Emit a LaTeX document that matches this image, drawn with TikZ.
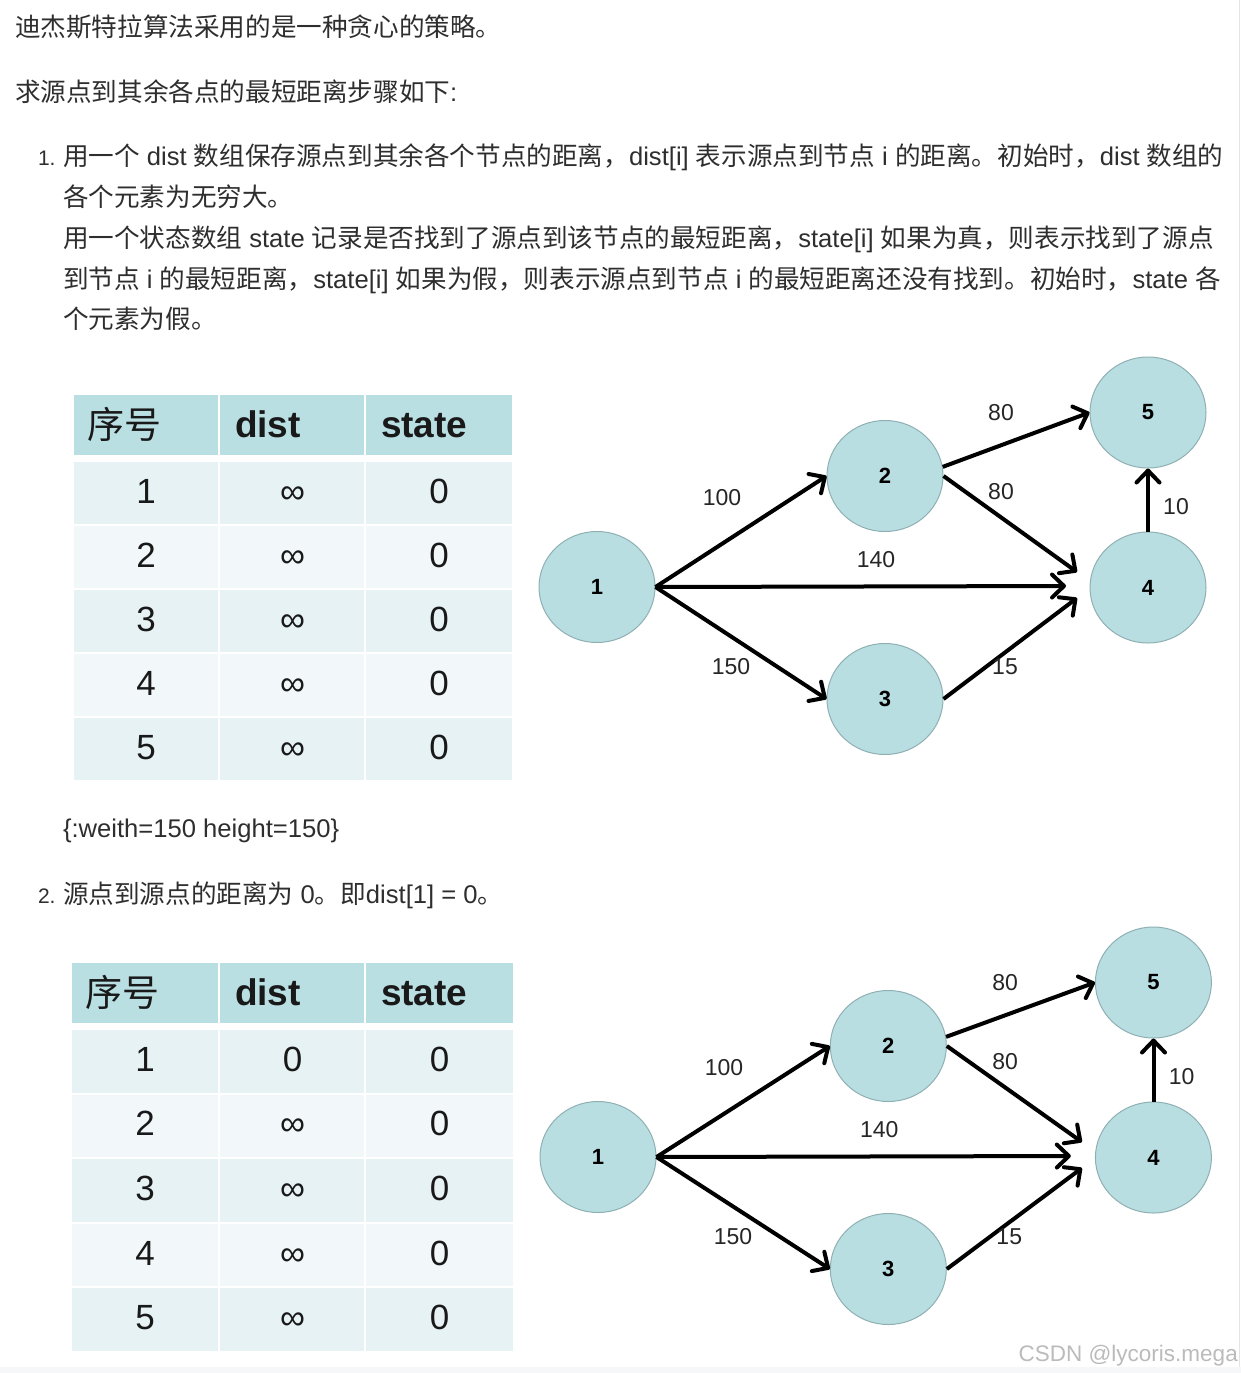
\documentclass[tikz,border=0pt]{standalone}
\usepackage{fontspec}
\setmainfont{Liberation Sans}
\newfontfamily\zhfont{Noto Sans CJK SC}
\usetikzlibrary{arrows.meta,shapes.geometric}
\newcommand\zh[1]{{\zhfont #1}}
\definecolor{txt}{HTML}{2E2E2E}
\definecolor{hdr}{HTML}{B9DFE3}
\definecolor{rowa}{HTML}{E6F2F4}
\definecolor{rowb}{HTML}{F2F8FA}
\definecolor{nodefill}{HTML}{B9DEE2}
\definecolor{nodeline}{HTML}{8FB0B3}
\definecolor{wm}{HTML}{BBBBBB}
\definecolor{edgegray}{HTML}{E4E4E4}
\definecolor{bandgray}{HTML}{F6F7F8}
\tikzset{
  para/.style={anchor=base west, inner sep=0pt, outer sep=0pt, text=txt, font=\fontsize{25.6}{30}\selectfont},
  marker/.style={anchor=base west, inner sep=0pt, outer sep=0pt, text=txt, font=\fontsize{21}{25}\selectfont},
  hdrtext/.style={anchor=base west, inner sep=0pt, outer sep=0pt, text=black!90, font=\fontsize{37}{40}\selectfont\bfseries},
  bodytext/.style={anchor=base, inner sep=0pt, outer sep=0pt, text=black!90, font=\fontsize{35}{40}\selectfont},
  gnode/.style={ellipse, draw=nodeline, line width=1pt, fill=nodefill, minimum width=116pt, minimum height=111pt, inner sep=0pt, text=black, font=\fontsize{22}{24}\selectfont\bfseries},
  glabel/.style={inner sep=0pt, outer sep=0pt, text=black!85, font=\fontsize{23}{26}\selectfont},
  garrow/.style={draw=black, line width=4pt, -{Straight Barb[length=12pt,width=23pt,round]}},
}
\newcommand\drawtable[7]{%
  \fill[hdr] (#2,#4) rectangle (218,#4+60);
  \fill[hdr] (220,#4) rectangle (364,#4+60);
  \fill[hdr] (366,#4) rectangle (#3,#4+60);
  \node[hdrtext] (#1-h1) at (#2+13,#4+43) {\mdseries\zh{序号}};
  \node[hdrtext] (#1-h2) at (235,#4+42.5) {dist};
  \node[hdrtext] (#1-h3) at (381,#4+42.5) {state};
  \foreach \i/\d in {#7}{%
    \pgfmathsetmacro\rt{#5+(\i-1)*#6}%
    \pgfmathsetmacro\rb{\rt+#6-2}%
    \pgfmathsetmacro\rc{(\rt+\rb)/2+10}%
    \ifodd\i\def\rf{rowa}\else\def\rf{rowb}\fi
    \fill[fill=\rf] (#2,\rt) rectangle (218,\rb);
    \fill[fill=\rf] (220,\rt) rectangle (364,\rb);
    \fill[fill=\rf] (366,\rt) rectangle (#3,\rb);
    \node[bodytext] (#1-r\i-c1) at ({(#2+218)/2},\rc) {\i};
    \node[bodytext] (#1-r\i-c2) at (292.5,\rc) {\d};
    \node[bodytext] (#1-r\i-c3) at ({(366+#3)/2},\rc) {0};
  }%
}
\newcommand\drawgraph[1]{%
  \node[gnode] (#1-1) at (0,0) {1};
  \node[gnode] (#1-2) at (288,-111) {2};
  \node[gnode] (#1-3) at (288,112) {3};
  \node[gnode] (#1-4) at (551,0.5) {4};
  \node[gnode] (#1-5) at (551,-174.5) {5};
  \coordinate (#1-t14) at (469,-1);
  \coordinate (#1-t24) at (480,-15);
  \coordinate (#1-t34) at (480,11);
  \draw[garrow] (#1-1.east) -- (#1-2.west);
  \draw[garrow] (#1-1.east) -- (#1-3.west);
  \draw[garrow] (#1-1.east) -- (#1-t14);
  \draw[garrow] (#1-2.9) -- (#1-5.west);
  \draw[garrow] (#1-2.east) -- (#1-t24);
  \draw[garrow] (#1-3.east) -- (#1-t34);
  \draw[garrow] (#1-4.north) -- (#1-5.south);
  \node[glabel] (#1-l12) at (125,-89) {100};
  \node[glabel] (#1-l25) at (404,-174) {80};
  \node[glabel] (#1-l24) at (404,-95) {80};
  \node[glabel] (#1-l14) at (279,-27) {140};
  \node[glabel] (#1-l13) at (134,80) {150};
  \node[glabel] (#1-l34) at (408,80) {15};
  \node[glabel] (#1-l45) at (579,-80) {10};
}
\begin{document}
\begin{tikzpicture}[x=1pt,y=-1pt]
  \useasboundingbox (0,0) rectangle (1241,1373);
  \fill[white] (0,0) rectangle (1241,1373);
  \fill[bandgray] (0,1367) rectangle (1241,1373);
  \draw[edgegray, line width=1.2pt] (1239.5,0) -- (1239.5,1367);

  % text
  \node[para] (p1) at (15,36) {\zh{迪杰斯特拉算法采用的是一种贪心的策略。}};
  \node[para] (p2) at (15,101) {\zh{求源点到其余各点的最短距离步骤如下}:};
  \node[marker] (m1) at (38,165.6) {1.};
  \node[para] (p3) at (63,165.6) {\zh{用一个} dist \zh{数组保存源点到其余各个节点的距离，}dist[i] \zh{表示源点到节点} i \zh{的距离。初始时，}dist \zh{数组的}};
  \node[para] (p4) at (63,206.6) {\zh{各个元素为无穷大。}};
  \node[para] (p5) at (63,247) {\zh{用一个状态数组} state \zh{记录是否找到了源点到该节点的最短距离，}state[i] \zh{如果为真，则表示找到了源点}};
  \node[para] (p6) at (63,288.6) {\zh{到节点} i \zh{的最短距离，}state[i] \zh{如果为假，则表示源点到节点} i \zh{的最短距离还没有找到。初始时，}state \zh{各}};
  \node[para] (p7) at (63,328.6) {\zh{个元素为假。}};
  \node[para] (p8) at (63,837) {\{:weith=150 height=150\}};
  \node[marker] (m2) at (38,903) {2.};
  \node[para] (p9) at (63,903) {\zh{源点到源点的距离为} 0\zh{。即}dist[1] = 0\zh{。}};

  % tables
  \drawtable{ta}{74}{512}{395}{462}{64}{1/∞,2/∞,3/∞,4/∞,5/∞}
  \drawtable{tb}{72}{513}{963}{1030}{64.6}{1/0,2/∞,3/∞,4/∞,5/∞}

  % graphs
  \begin{scope}[shift={(597,587)}]
    \drawgraph{ga}
  \end{scope}
  \begin{scope}[shift={(598,1157)}, xscale=1.008]
    \drawgraph{gb}
  \end{scope}

  \node[anchor=base east, inner sep=0pt, text=wm, font=\fontsize{22.5}{26}\selectfont] (wmk) at (1238,1361) {CSDN @lycoris.mega};
\end{tikzpicture}
\end{document}
